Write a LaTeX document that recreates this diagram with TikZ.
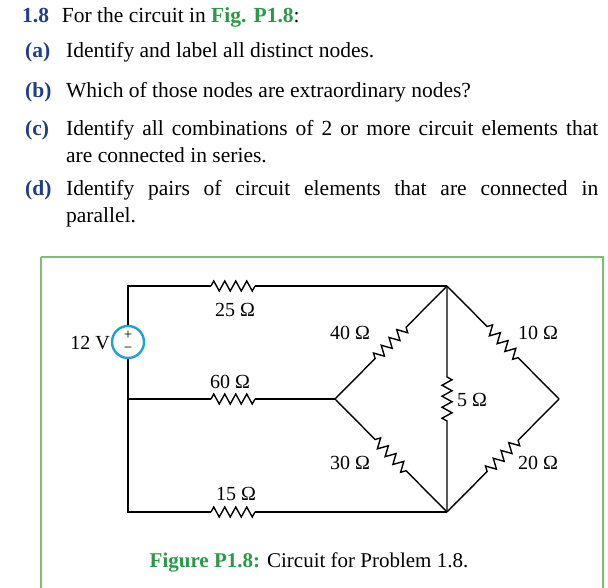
\documentclass[tikz,border=0pt]{standalone}
\usepackage{fontspec}
\setmainfont{Liberation Serif}
\usetikzlibrary{decorations.pathmorphing}
\definecolor{qblue}{HTML}{1F3F80}
\definecolor{qgreen}{HTML}{2A9A48}
\definecolor{frame}{HTML}{7CC070}
\definecolor{srccol}{HTML}{1EA0DC}
\tikzset{
  wire/.style={line width=1.4pt, line join=miter},
  res/.style={wire, decorate, decoration={zigzag, segment length=11pt, amplitude=5pt, pre length=#1, post length=#1}},
  lab/.style={font=\fontsize{20}{22}\selectfont, inner sep=0pt},
  txt/.style={font=\fontsize{21.5}{27}\selectfont, inner sep=0pt, anchor=north west, align=justify},
}
\begin{document}
\begin{tikzpicture}[x=1pt,y=-1pt]
\useasboundingbox (0,0) rectangle (608,588);
% question text
\node[txt, anchor=base west] (h) at (22,23) {\textbf{\color{qblue}1.8}\hspace{0.6em}For the circuit in \textbf{\color{qgreen}Fig. P1.8}:};
\node[txt, anchor=base west] (la) at (25,58) {\textbf{\color{qblue}(a)}};
\node[txt, anchor=base west] (ta) at (66,58) {Identify and label all distinct nodes.};
\node[txt, anchor=base west] (lb) at (25,98) {\textbf{\color{qblue}(b)}};
\node[txt, anchor=base west] (tb) at (66,98) {Which of those nodes are extraordinary nodes?};
\node[txt, anchor=base west] (lc) at (25,136) {\textbf{\color{qblue}(c)}};
\node[txt, text width=532pt, anchor=base west] (tc) at (66,136) {\hyphenpenalty=10000 Identify all combinations of 2 or more circuit elements that\linebreak are connected in series.};
\node[txt, anchor=base west] (ld) at (25,196) {\textbf{\color{qblue}(d)}};
\node[txt, text width=532pt, anchor=base west] (td) at (66,196) {\hyphenpenalty=10000 Identify pairs of circuit elements that are connected in\linebreak parallel.};
% frame
\draw[frame, line width=1.3pt] (41,257) -- (603,257) -- (603,590);
\draw[frame, line width=1.3pt] (41,257) -- (41,590);
% nodes
\coordinate (tl) at (128,286);
\coordinate (ml) at (128,399);
\coordinate (bl) at (128,512);
\coordinate (tn) at (447,286);
\coordinate (bn) at (447,512);
\coordinate (lv) at (335,399);
\coordinate (rv) at (559,399);
\coordinate (r25a) at (211,286); \coordinate (r25b) at (255,286);
\coordinate (r60a) at (211,399); \coordinate (r60b) at (255,399);
\coordinate (r15a) at (211,512); \coordinate (r15b) at (255,512);
\node[draw=srccol, line width=2.4pt, circle, minimum size=32pt, inner sep=0pt] (src) at (128,342) {};
\node[lab, font=\fontsize{15}{15}\selectfont] (plus) at (128,335.5) {+};
\node[lab, font=\fontsize{15}{15}\selectfont] (minus) at (128,350) {\textminus};
\node[lab, anchor=east] (v12) at (110,343) {12 V};
% wires
\draw[wire] (src.north) -- (tl) -- (r25a);
\draw[wire] (r25b) -- (tn);
\draw[wire] (src.south) -- (ml) -- (bl) -- (r15a);
\draw[wire] (ml) -- (r60a);
\draw[wire] (r60b) -- (lv);
\draw[wire] (r15b) -- (bn);
\draw[res=0pt] (r25a) -- (r25b);
\draw[res=0pt] (r60a) -- (r60b);
\draw[res=0pt] (r15a) -- (r15b);
\draw[res=57pt] (lv) -- (tn);
\draw[res=57pt] (lv) -- (bn);
\draw[res=57pt] (tn) -- (rv);
\draw[res=57pt] (bn) -- (rv);
\draw[res=91pt] (tn) -- (bn);
% labels
\node[lab] (l25) at (235,310) {25 Ω};
\node[lab] (l60) at (230,382) {60 Ω};
\node[lab] (l15) at (236,494) {15 Ω};
\node[lab] (l40) at (350,333) {40 Ω};
\node[lab] (l30) at (350,463) {30 Ω};
\node[lab] (l10) at (538,333) {10 Ω};
\node[lab] (l20) at (538,463) {20 Ω};
\node[lab, anchor=west] (l5) at (457,400) {5 Ω};
\node[lab, font=\fontsize{21}{22}\selectfont] (cap) at (309,562) {\textbf{\color{qgreen}Figure P1.8:} Circuit for Problem 1.8.};
\end{tikzpicture}
\end{document}
